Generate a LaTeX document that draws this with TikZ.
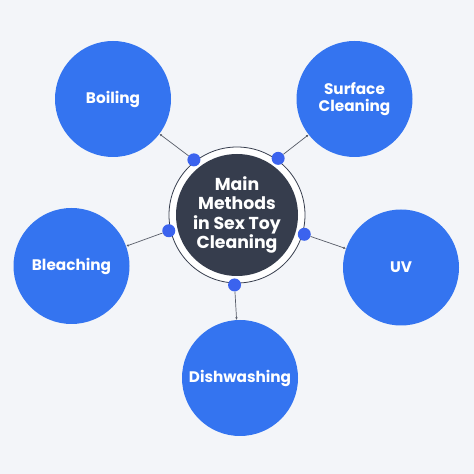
\documentclass[tikz,border=0pt]{standalone}
\usepackage{fontspec}
\setmainfont{Poppins}
\usepackage{color}
\usetikzlibrary{arrows.meta}
\definecolor{bgcol}{HTML}{F3F5F9}
\definecolor{methblue}{HTML}{3474F0}
\definecolor{dotblue}{HTML}{3B63EE}
\definecolor{coredark}{HTML}{363D4D}
\definecolor{linecol}{HTML}{555A66}

\begin{document}
\begin{tikzpicture}[x=1pt,y=1pt,
    method/.style={circle,fill=methblue,minimum size=116pt,inner sep=0pt,text=white,
        align=center,font=\fontsize{15.3}{17.7}\selectfont\bfseries},
    joint/.style={circle,fill=dotblue,minimum size=13pt,inner sep=0pt},
    link/.style={draw=linecol,line width=0.7pt,-{Latex[length=2.5pt,width=2.5pt]}}]
                \fill[bgcol] (0,0) rectangle (474,474);
                \useasboundingbox (0,0) rectangle (474,474);
                % centre with the ring round it
                \node[circle,draw=coredark,line width=0.8pt,fill=white,minimum size=136pt,inner sep=0pt] (ring) at (237,259) {};
                \node[circle,fill=coredark,minimum size=122pt,inner sep=0pt,text=white,align=center,
                    font=\fontsize{17.3}{19.5}\selectfont\bfseries] (core) at (237,259) {Main\\Methods\\in Sex Toy\\Cleaning};
                % the five methods
                \node[method] (boil) at (113,375) {Boiling};
                \node[method] (surf) at (354.5,375) {Surface\\Cleaning};
                \node[method] (bleach) at (71.5,208) {Bleaching};
                \node[method] (uv) at (401,206.5) {UV};
                \node[method] (dish) at (240,96) {Dishwashing};
                % joints on the ring
                \node[joint] (j1) at ([shift={(128:70)}]core.center) {};
                \node[joint] (j2) at ([shift={(54:70)}]core.center) {};
                \node[joint] (j3) at ([shift={(193:70)}]core.center) {};
                \node[joint] (j4) at ([shift={(344:70)}]core.center) {};
                \node[joint] (j5) at ([shift={(268:70)}]core.center) {};
                \draw[link] (j1) -- (boil);
                \draw[link] (j2) -- (surf);
                \draw[link] (j3) -- (bleach);
                \draw[link] (j4) -- (uv);
                \draw[link] (j5) -- (dish);
\end{tikzpicture}
\end{document}
